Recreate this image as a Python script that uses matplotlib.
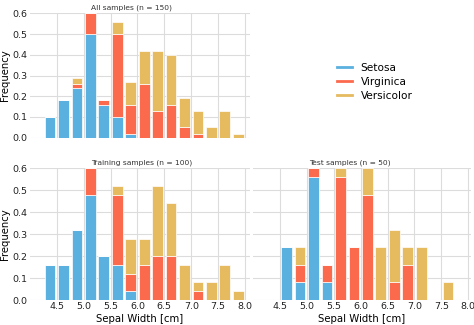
import matplotlib
matplotlib.use("Agg")
import matplotlib.pyplot as plt
from matplotlib.lines import Line2D
import numpy as np

# data: stacked frequencies per bin (15 bins, 4.25 .. 8.0, width 0.25)
species = ["Setosa", "Virginica", "Versicolor"]
colors = ["#5AB1E0", "#FC6A4E", "#E6BA5F"]

all_setosa = [0.10, 0.18, 0.24, 0.50, 0.16, 0.10, 0.02, 0, 0, 0, 0, 0, 0, 0, 0]
all_virginica = [0, 0, 0.02, 0.10, 0.02, 0.40, 0.14, 0.26, 0.13, 0.16, 0.05, 0.02, 0, 0, 0]
all_versicolor = [0, 0, 0.03, 0, 0, 0.06, 0.11, 0.16, 0.29, 0.24, 0.14, 0.11, 0.05, 0.13, 0.02]

train_setosa = [0.16, 0.16, 0.32, 0.48, 0.20, 0.16, 0.04, 0, 0, 0, 0, 0, 0, 0, 0]
train_virginica = [0, 0, 0, 0.12, 0, 0.32, 0.08, 0.16, 0.20, 0.20, 0, 0.04, 0, 0, 0]
train_versicolor = [0, 0, 0, 0, 0, 0.04, 0.16, 0.12, 0.32, 0.24, 0.16, 0.04, 0.08, 0.16, 0.04]

test_setosa = [0, 0.24, 0.08, 0.56, 0.08, 0, 0, 0, 0, 0, 0, 0, 0, 0, 0]
test_virginica = [0, 0, 0.08, 0.04, 0.08, 0.56, 0.24, 0.48, 0, 0.08, 0.16, 0, 0, 0, 0]
test_versicolor = [0, 0, 0.08, 0, 0, 0.04, 0, 0.12, 0.24, 0.24, 0.08, 0.24, 0, 0.08, 0]

xticks = [4.5, 5.0, 5.5, 6.0, 6.5, 7.0, 7.5, 8.0]
yticks = [0.0, 0.1, 0.2, 0.3, 0.4, 0.5, 0.6]

bin_left, bin_step = 4.25, 0.25
centers = bin_left + bin_step * (np.arange(len(all_setosa)) + 0.5)

fig = plt.figure(figsize=(4.74, 3.25), dpi=100)
ax_all = fig.add_axes([0.0629, 0.5763, 0.4654, 0.3822])
ax_train = fig.add_axes([0.0629, 0.0769, 0.4654, 0.4052])
ax_test = fig.add_axes([0.5338, 0.0769, 0.4597, 0.4052])


def stacked(ax, parts, title, title_x):
    bottom = np.zeros(len(centers))
    for vals, col in zip(parts, colors):
        vals = np.array(vals, dtype=float)
        ax.bar(centers, vals, width=0.2, bottom=bottom, color=col,
               edgecolor="white", linewidth=0.5, zorder=2)
        bottom += vals
    ax.set_ylim(0, 0.6)
    ax.set_xticks(xticks)
    ax.set_yticks(yticks)
    ax.grid(True, color="#dcdcdc", linewidth=0.8, zorder=0)
    ax.set_axisbelow(True)
    for s in ax.spines.values():
        s.set_visible(False)
    ax.tick_params(length=0, labelsize=6.8, pad=1.5, colors="#222222")
    ax.set_title(title, fontsize=5.4, color="#333333", pad=3, x=title_x)


stacked(ax_all, [all_setosa, all_virginica, all_versicolor], "All samples (n = 150)", 0.46)
stacked(ax_train, [train_setosa, train_virginica, train_versicolor], "Training samples (n = 100)", 0.506)
stacked(ax_test, [test_setosa, test_virginica, test_versicolor], "Test samples (n = 50)", 0.445)

ax_all.set_xlim(4.0, 8.1)
ax_train.set_xlim(4.0, 8.1)
ax_test.set_xlim(4.0, 8.05)
ax_all.set_xticklabels([])
ax_test.set_yticklabels([])
ax_all.set_yticklabels(["%.1f" % t for t in yticks])
ax_train.set_yticklabels(["%.1f" % t for t in yticks])

ax_all.set_ylabel("Frequency", fontsize=7.3, labelpad=2)
ax_train.set_ylabel("Frequency", fontsize=7.3, labelpad=2)
ax_train.set_xlabel("Sepal Width [cm]", fontsize=7.3, labelpad=2)
ax_test.set_xlabel("Sepal Width [cm]", fontsize=7.3, labelpad=2)

# legend
handles = [Line2D([0], [0], color=c, lw=2) for c in colors]
fig.legend(handles, species, loc="upper left", bbox_to_anchor=(0.6916, 0.835),
           frameon=False, fontsize=7.6, handlelength=1.4, handletextpad=0.8,
           labelspacing=0.35)

plt.savefig("out.png", dpi=100)
